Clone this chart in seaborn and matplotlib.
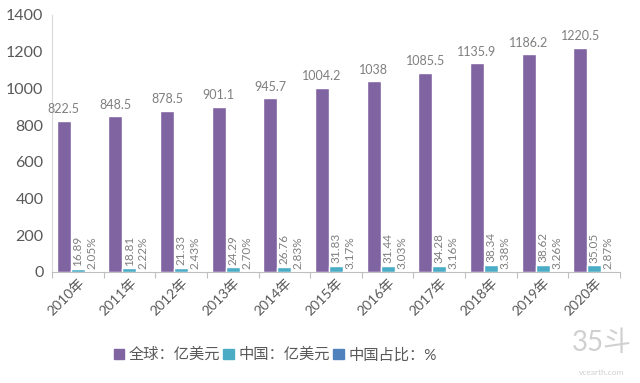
import pandas as pd
import seaborn as sns
import matplotlib.pyplot as plt
from matplotlib.ticker import MultipleLocator, FixedLocator

# Data
years = ['2010年', '2011年', '2012年', '2013年', '2014年', '2015年',
         '2016年', '2017年', '2018年', '2019年', '2020年']
global_vals = [822.5, 848.5, 878.5, 901.1, 945.7, 1004.2, 1038, 1085.5, 1135.9, 1186.2, 1220.5]
china_vals = [16.89, 18.81, 21.33, 24.29, 26.76, 31.83, 31.44, 34.28, 38.34, 38.62, 35.05]
share_vals = [2.05, 2.22, 2.43, 2.70, 2.83, 3.17, 3.03, 3.16, 3.38, 3.26, 2.87]
series = ['全球：亿美元', '中国：亿美元', '中国占比：%']
colors = ['#8064A2', '#4BACC6', '#4F81BD']

df = pd.DataFrame({
    'year': years * 3,
    'value': global_vals + china_vals + share_vals,
    'series': [series[0]] * len(years) + [series[1]] * len(years) + [series[2]] * len(years),
})

sns.set_theme(style='white')
plt.rcParams['font.family'] = ['Lato', 'Noto Sans CJK SC', 'DejaVu Sans']

fig = plt.figure(figsize=(6.4, 3.83), dpi=100)
ax = fig.add_axes([0.081, 0.29, 0.888, 0.671])

sns.barplot(data=df, x='year', y='value', hue='series', hue_order=series,
            palette=colors, width=0.81, saturation=1, ax=ax, legend=False)

text_col = '#595959'
lab_col = '#7F7F7F'

# data labels
ax.bar_label(ax.containers[0], labels=[f'{v:g}' for v in global_vals],
             padding=4, fontsize=9, color=lab_col)
ax.bar_label(ax.containers[1], labels=[f'{v:.2f}' for v in china_vals],
             padding=2, fontsize=8.5, color=lab_col, rotation=90)
ax.bar_label(ax.containers[2], labels=[f'{v:.2f}%' for v in share_vals],
             padding=2, fontsize=8.5, color=lab_col, rotation=90)

ax.set_ylim(0, 1400)
ax.set_xlim(-0.5, len(years) - 0.5)
ax.yaxis.set_major_locator(MultipleLocator(200))
ax.set_xlabel('')
ax.set_ylabel('')
ax.tick_params(axis='y', labelsize=11.5, labelcolor=text_col, length=0, pad=6)
ax.tick_params(axis='x', labelsize=10, labelcolor=text_col, length=0, pad=3)
plt.setp(ax.get_xticklabels(), rotation=45, ha='right', rotation_mode='anchor')

# small ticks at group boundaries
ax.xaxis.set_minor_locator(FixedLocator([i - 0.5 for i in range(len(years) + 1)]))
ax.tick_params(axis='x', which='minor', bottom=True, length=4, color='#BFBFBF', width=0.8)

for side in ['top', 'right']:
    ax.spines[side].set_visible(False)
ax.spines['left'].set_color('#D9D9D9')
ax.spines['bottom'].set_color('#BFBFBF')
ax.spines['left'].set_linewidth(0.8)
ax.spines['bottom'].set_linewidth(0.8)

handles = [plt.Rectangle((0, 0), 1, 1, color=c) for c in colors]
fig.legend(handles, series, loc='center', bbox_to_anchor=(0.43, 0.073), ncol=3,
           frameon=False, fontsize=11, handlelength=0.7, handleheight=0.7,
           handletextpad=0.3, columnspacing=0.2, labelcolor=text_col)

# watermark
fig.text(0.94, 0.105, '35斗', fontsize=20, color='#D0D0D0', ha='center', va='center')
fig.text(0.94, 0.028, 'vcearth.com', fontsize=6, color='#D0D0D0', ha='center', va='center')

plt.savefig('out.png', dpi=100)
plt.close()
